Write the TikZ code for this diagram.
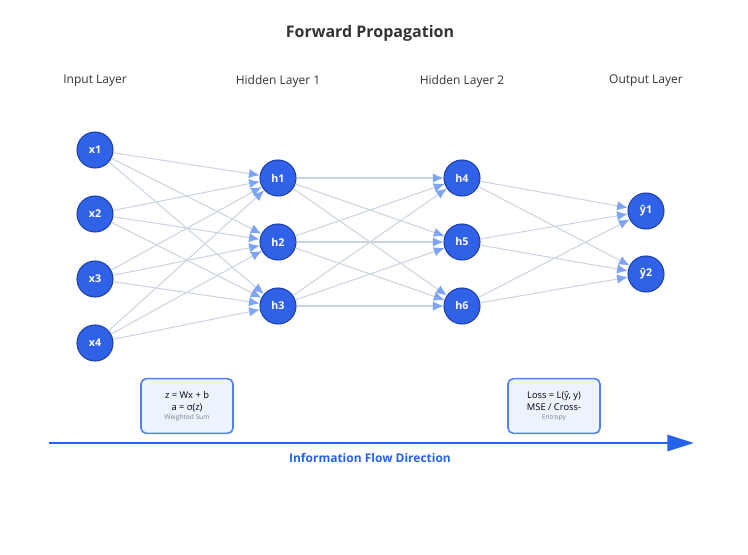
\documentclass[tikz,border=0pt]{standalone}
\usepackage{fontspec}
\setmainfont{Open Sans}
\usetikzlibrary{arrows.meta}
\definecolor{nodeblue}{HTML}{2F62E6}
\definecolor{nodeedge}{HTML}{1E40AF}
\definecolor{linkgray}{HTML}{CBD5E1}
\definecolor{tipblue}{HTML}{7FA3F5}
\definecolor{boxfill}{HTML}{EEF4FF}
\definecolor{flowblue}{HTML}{2563EB}
\definecolor{darktext}{HTML}{333333}

\begin{document}
\begin{tikzpicture}[x=0.75pt, y=-0.75pt,
	neuron/.style={circle, draw=nodeedge, thick, fill=nodeblue, minimum size=27pt, inner sep=0pt, text=white, font=\footnotesize\bfseries},
	link/.style={draw=linkgray, line width=0.8pt, -{Latex[length=8pt, width=7pt, fill=tipblue, color=tipblue]}},
	layer/.style={font=\small, text=darktext},
	formula/.style={draw=flowblue!80, fill=boxfill, rounded corners=4pt, line width=1.2pt, minimum width=69pt, minimum height=41pt, align=center, font=\scriptsize}]
	\useasboundingbox (0,0) rectangle (748,555);
	
	\node[font=\large\bfseries, text=darktext] (title) at (370,33){Forward Propagation};
	\node[layer] (l0) at (95,81){Input Layer};
	\node[layer] (l1) at (278,81){Hidden Layer 1};
	\node[layer] (l2) at (462,81){Hidden Layer 2};
	\node[layer] (l3) at (646,81){Output Layer};
	
	\foreach \i/\y in {1/150, 2/214, 3/279, 4/343}
		\node[neuron] (x\i) at (95,\y){x\i};
	\foreach \i/\y in {1/178, 2/242, 3/306}
		\node[neuron] (h\i) at (278,\y){h\i};
	\foreach \i/\y in {4/178, 5/242, 6/306}
		\node[neuron] (h\i) at (462,\y){h\i};
	\node[neuron] (y1) at (646,211){ŷ1};
	\node[neuron] (y2) at (646,274){ŷ2};
	
	\begin{scope}[on background layer/.style={}]
	\foreach \a in {1,...,4}
		\foreach \b in {1,2,3}
			\path[link] (x\a) -- (h\b);
	\foreach \a in {1,2,3}
		\foreach \b in {4,5,6}
			\path[link] (h\a) -- (h\b);
	\foreach \a in {4,5,6}
		\foreach \b in {1,2}
			\path[link] (h\a) -- (y\b);
	\end{scope}
	
	\node[formula] (sum) at (187,406){z = Wx + b\\[1pt] a = σ(z)\\[-1pt] {\tiny\color{gray} Weighted Sum}};
	\node[formula] (loss) at (554,406){Loss = L(ŷ, y)\\[1pt] MSE / Cross-\\[-1pt] {\tiny\color{gray} Entropy}};
	
	\coordinate (fs) at (49,443);
	\coordinate (fe) at (694,443);
	\draw[flowblue, line width=2.2pt, -{Triangle[length=20pt, width=12pt]}] (fs) -- (fe);
	\node[font=\small\bfseries, text=flowblue] (flow) at (370,458){Information Flow Direction};
\end{tikzpicture}
\end{document}
